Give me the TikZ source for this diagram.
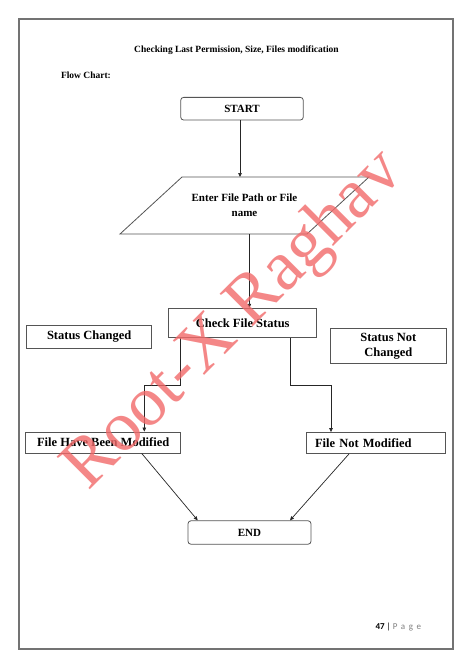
\documentclass[tikz,border=0pt]{standalone}
\usepackage{fontspec}
\setmainfont{Liberation Serif}
\newfontfamily\calibri{Carlito}
\usetikzlibrary{arrows.meta}
\definecolor{wm}{RGB}{242,105,105}
\definecolor{boxline}{RGB}{85,85,85}
\begin{document}
\begin{tikzpicture}[x=1pt,y=-1pt,
  box/.style={draw=boxline, line width=0.8pt, inner sep=0pt, font=\bfseries\fontsize{12.5}{15}\selectfont},
  rbox/.style={box, rounded corners=3pt, font=\bfseries\fontsize{11}{13}\selectfont},
  conn/.style={draw=black!85, line width=0.7pt},
  arr/.style={conn, -{Triangle[length=4pt,width=3.5pt]}},
  heading/.style={font=\bfseries\fontsize{9.5}{11}\selectfont}]
\useasboundingbox (0,0) rectangle (474,670);
\fill[white] (0,0) rectangle (474,670);
\draw[black!55, line width=1.6pt] (19,19) rectangle (453,649);

\node[heading] (title) at (236.5,50.7) {Checking Last Permission, Size, Files modification};
\node[heading, anchor=west] (flow) at (57.5,75.5) {Flow Chart:};

\node[rbox, minimum width=122.6pt, minimum height=22.7pt] (start) at (242,108.7) {START};

\draw[draw=boxline, line width=0.8pt] (182,177) coordinate (pTL) -- (369,177) coordinate (pTR) -- (307,234) coordinate (pBR) -- (120,234) coordinate (pBL) -- cycle;
\node[font=\bfseries\fontsize{11}{14.7}\selectfont, align=center] (inp) at (244.5,205.5) {Enter File Path or File\\name};
\coordinate (inTop) at (240,177);
\coordinate (inBot) at (249.3,234);

\node[box, minimum width=148pt, minimum height=29pt] (check) at (242.7,322.8) {Check File Status};
\node[box, minimum width=125pt, minimum height=23.3pt] (schg) at (89.2,336.7) {Status Changed};
\node[box, minimum width=115.3pt, minimum height=35pt, align=center] (snchg) at (388.3,346) {Status Not\\Changed};
\node[box, minimum width=155pt, minimum height=21pt] (fhbm) at (103.2,442.5) {File Have Been Modified};
\node[box, minimum height=21pt, text width=121pt, inner xsep=9pt, align=left] (fnm) at (375.5,443) {File Not Modified};
\node[rbox, minimum width=123pt, minimum height=23.5pt] (end) at (249.5,532.5) {END};

\coordinate (lel) at (144.3,385);
\coordinate (rel) at (331,385);

\draw[arr] (start.south -| inTop) -- (inTop);
\draw[arr] (inBot) -- (inBot |- check.north);
\draw[arr] ([xshift=-62pt]check.south) |- (lel) -- (lel |- fhbm.north);
\draw[arr] ([xshift=47.3pt]check.south) |- (rel) -- (rel |- fnm.north);
\draw[arr] ([xshift=38.5pt]fhbm.south) -- ([xshift=-51.8pt]end.north);
\draw[arr] ([xshift=-26.5pt]fnm.south) -- ([xshift=40.5pt]end.north);

\node[anchor=west, font=\calibri\fontsize{9}{11}\selectfont] (pg) at (372,627) {\textbf{47} | \textcolor{gray}{\addfontfeature{LetterSpace=40}Page}};

\node[rotate=45, text=wm, font=\fontsize{71}{71}\selectfont, opacity=0.8] (wmark) at (235,321) {Root-X Raghav};
\end{tikzpicture}
\end{document}
